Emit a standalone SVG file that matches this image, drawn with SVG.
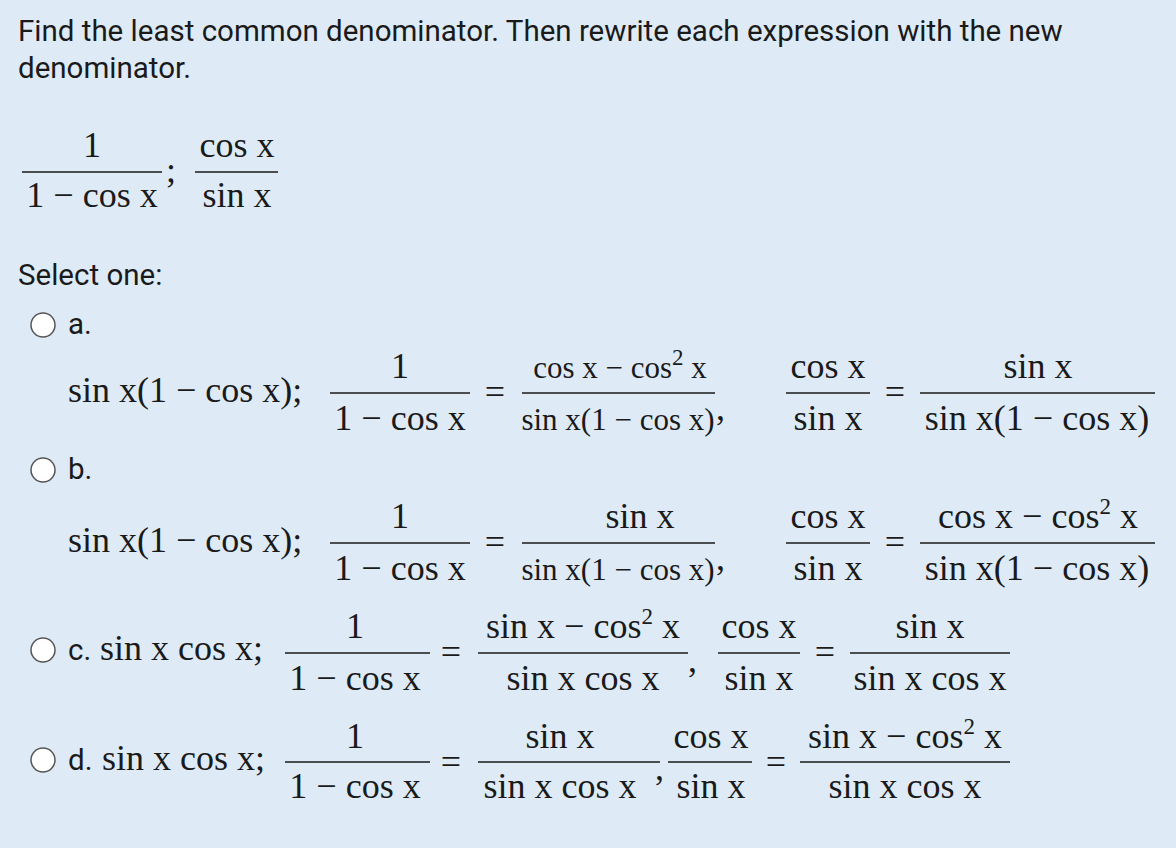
<svg xmlns="http://www.w3.org/2000/svg" width="1176" height="848" viewBox="0 0 1176 848">
<style>
.s{font-family:Roboto,"Liberation Sans",sans-serif;font-size:29.5px;fill:#1a1a1a}
.m{font-family:"Liberation Serif",serif;font-size:36px;fill:#1a1a1a}
.n{font-size:31px}
.c{text-anchor:middle}
.sup{font-size:23px}
line{stroke:#1a1a1a;stroke-width:1.3}
circle{fill:#fff;stroke:#555;stroke-width:1.5}
</style>
<rect width="1176" height="848" fill="#deebf7"/>
<text class="s" x="18" y="41">Find the least common denominator. Then rewrite each expression with the new</text>
<text class="s" x="18" y="78">denominator.</text>
<g id="given">
<text class="m c" x="92" y="157">1</text><line x1="22" y1="172" x2="162" y2="172"/><text class="m c" x="92" y="207">1 − cos x</text>
<text class="m" x="166" y="182">;</text>
<text class="m c" x="237" y="157">cos x</text><line x1="195" y1="172" x2="278" y2="172"/><text class="m c" x="237" y="207">sin x</text>
</g>
<text class="s" x="18" y="285">Select one:</text>
<g id="optA">
<circle cx="43" cy="325" r="12"/><text class="s" x="68" y="334">a.</text>
<text class="m" x="68" y="402">sin x(1 − cos x);</text>
<text class="m c" x="400" y="378">1</text><line x1="330" y1="393" x2="470" y2="393"/><text class="m c" x="400" y="430">1 − cos x</text>
<text class="m c" x="495" y="404">=</text>
<text class="m c n" x="620" y="378">cos x − cos<tspan class="sup" dy="-13">2</tspan><tspan dy="13"> x</tspan></text><line x1="522" y1="393" x2="715" y2="393"/><text class="m c n" x="618" y="430">sin x(1 − cos x)</text>
<text class="m" x="716" y="420">,</text>
<text class="m c" x="828" y="378">cos x</text><line x1="786" y1="393" x2="870" y2="393"/><text class="m c" x="828" y="430">sin x</text>
<text class="m c" x="895" y="404">=</text>
<text class="m c" x="1038" y="378">sin x</text><line x1="920" y1="393" x2="1155" y2="393"/><text class="m c" x="1037" y="430">sin x(1 − cos x)</text>
</g>
<g id="optB">
<circle cx="43" cy="470" r="12"/><text class="s" x="68" y="479">b.</text>
<text class="m" x="68" y="552">sin x(1 − cos x);</text>
<text class="m c" x="400" y="528">1</text><line x1="330" y1="543" x2="470" y2="543"/><text class="m c" x="400" y="580">1 − cos x</text>
<text class="m c" x="495" y="554">=</text>
<text class="m c" x="640" y="528">sin x</text><line x1="522" y1="543" x2="715" y2="543"/><text class="m c n" x="618" y="580">sin x(1 − cos x)</text>
<text class="m" x="716" y="570">,</text>
<text class="m c" x="828" y="528">cos x</text><line x1="786" y1="543" x2="870" y2="543"/><text class="m c" x="828" y="580">sin x</text>
<text class="m c" x="895" y="554">=</text>
<text class="m c" x="1038" y="528">cos x − cos<tspan class="sup" dy="-14">2</tspan><tspan dy="14"> x</tspan></text><line x1="920" y1="543" x2="1155" y2="543"/><text class="m c" x="1037" y="580">sin x(1 − cos x)</text>
</g>
<g id="optC">
<circle cx="43" cy="650" r="12"/><text class="s" x="68" y="660">c.</text><text class="m" x="100" y="660">sin x cos x;</text>
<text class="m c" x="355" y="638">1</text><line x1="285" y1="653" x2="430" y2="653"/><text class="m c" x="355" y="690">1 − cos x</text>
<text class="m c" x="451" y="664">=</text>
<text class="m c" x="583" y="638">sin x − cos<tspan class="sup" dy="-14">2</tspan><tspan dy="14"> x</tspan></text><line x1="478" y1="653" x2="688" y2="653"/><text class="m c" x="583" y="690">sin x cos x</text>
<text class="m" x="688" y="672">,</text>
<text class="m c" x="759" y="638">cos x</text><line x1="718" y1="653" x2="800" y2="653"/><text class="m c" x="759" y="690">sin x</text>
<text class="m c" x="825" y="664">=</text>
<text class="m c" x="930" y="638">sin x</text><line x1="850" y1="653" x2="1010" y2="653"/><text class="m c" x="930" y="690">sin x cos x</text>
</g>
<g id="optD">
<circle cx="43" cy="760" r="12"/><text class="s" x="68" y="770">d.</text><text class="m" x="102" y="770">sin x cos x;</text>
<text class="m c" x="355" y="748">1</text><line x1="285" y1="762" x2="430" y2="762"/><text class="m c" x="355" y="798">1 − cos x</text>
<text class="m c" x="451" y="774">=</text>
<text class="m c" x="560" y="748">sin x</text><line x1="478" y1="762" x2="660" y2="762"/><text class="m c" x="560" y="798">sin x cos x</text>
<text class="m" x="655" y="780">,</text>
<text class="m c" x="711" y="748">cos x</text><line x1="668" y1="762" x2="752" y2="762"/><text class="m c" x="711" y="798">sin x</text>
<text class="m c" x="776" y="774">=</text>
<text class="m c" x="905" y="748">sin x − cos<tspan class="sup" dy="-14">2</tspan><tspan dy="14"> x</tspan></text><line x1="800" y1="762" x2="1010" y2="762"/><text class="m c" x="905" y="798">sin x cos x</text>
</g>
</svg>
